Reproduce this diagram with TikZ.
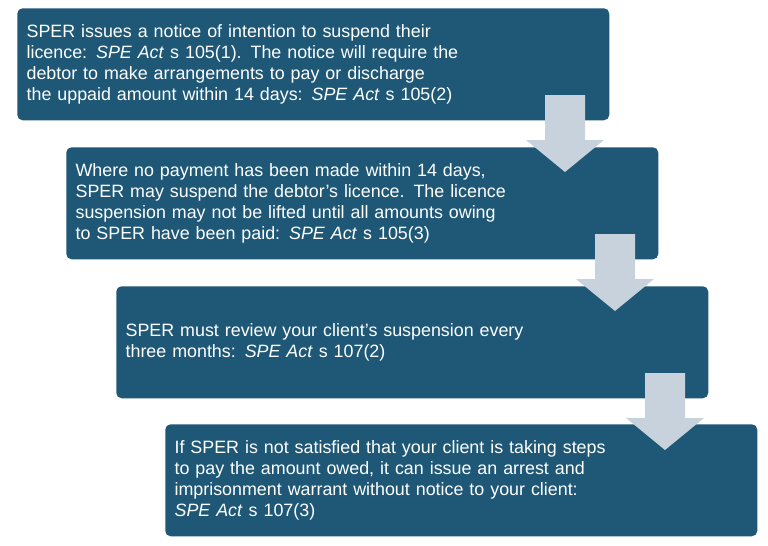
\documentclass[tikz,border=0pt]{standalone}
\usepackage{fontspec}
\setmainfont{Liberation Sans}
\usetikzlibrary{calc}
\definecolor{stepteal}{RGB}{30, 88, 118}
\definecolor{arrowgrey}{RGB}{200, 210, 220}

\newcommand{\downarrowat}[1]{%
  \fill[arrowgrey] ($(#1)+(-20,0)$) -- ($(#1)+(20,0)$) -- ($(#1)+(20,45)$)
    -- ($(#1)+(39,45)$) -- ($(#1)+(0,77)$) -- ($(#1)+(-39,45)$)
    -- ($(#1)+(-20,45)$) -- cycle;}

\begin{document}
\begin{tikzpicture}[x=0.75pt, y=-0.75pt,
        stepbox/.style={rectangle, rounded corners=4pt, fill=stepteal, text=white, anchor=north west,
            minimum width=441pt, minimum height=84pt, text width=430pt, inner xsep=7pt, align=left,
            font=\fontsize{13.4}{15.8}\selectfont}
    ]
    \useasboundingbox (0,0) rectangle (768,546);

    % Steps
    \node[stepbox] (notice) at (17, 8) {SPER issues a notice of intention to suspend their\\ licence: \textit{SPE Act} s 105(1). The notice will require the\\ debtor to make arrangements to pay or discharge\\ the uppaid amount within 14 days: \textit{SPE Act} s 105(2)};
    \node[stepbox] (suspend) at (66, 147) {Where no payment has been made within 14 days,\\ SPER may suspend the debtor's licence. The licence\\ suspension may not be lifted until all amounts owing\\ to SPER have been paid: \textit{SPE Act} s 105(3)};
    \node[stepbox] (review) at (116, 286) {SPER must review your client's suspension every\\ three months: \textit{SPE Act} s 107(2)};
    \node[stepbox] (warrant) at (165, 424) {If SPER is not satisfied that your client is taking steps\\ to pay the amount owed, it can issue an arrest and\\ imprisonment warrant without notice to your client:\\ \textit{SPE Act} s 107(3)};

    % Arrows
    \coordinate (a1) at (565, 95);
    \coordinate (a2) at (615, 234);
    \coordinate (a3) at (665, 373);
    \downarrowat{a1}
    \downarrowat{a2}
    \downarrowat{a3}
\end{tikzpicture}
\end{document}
